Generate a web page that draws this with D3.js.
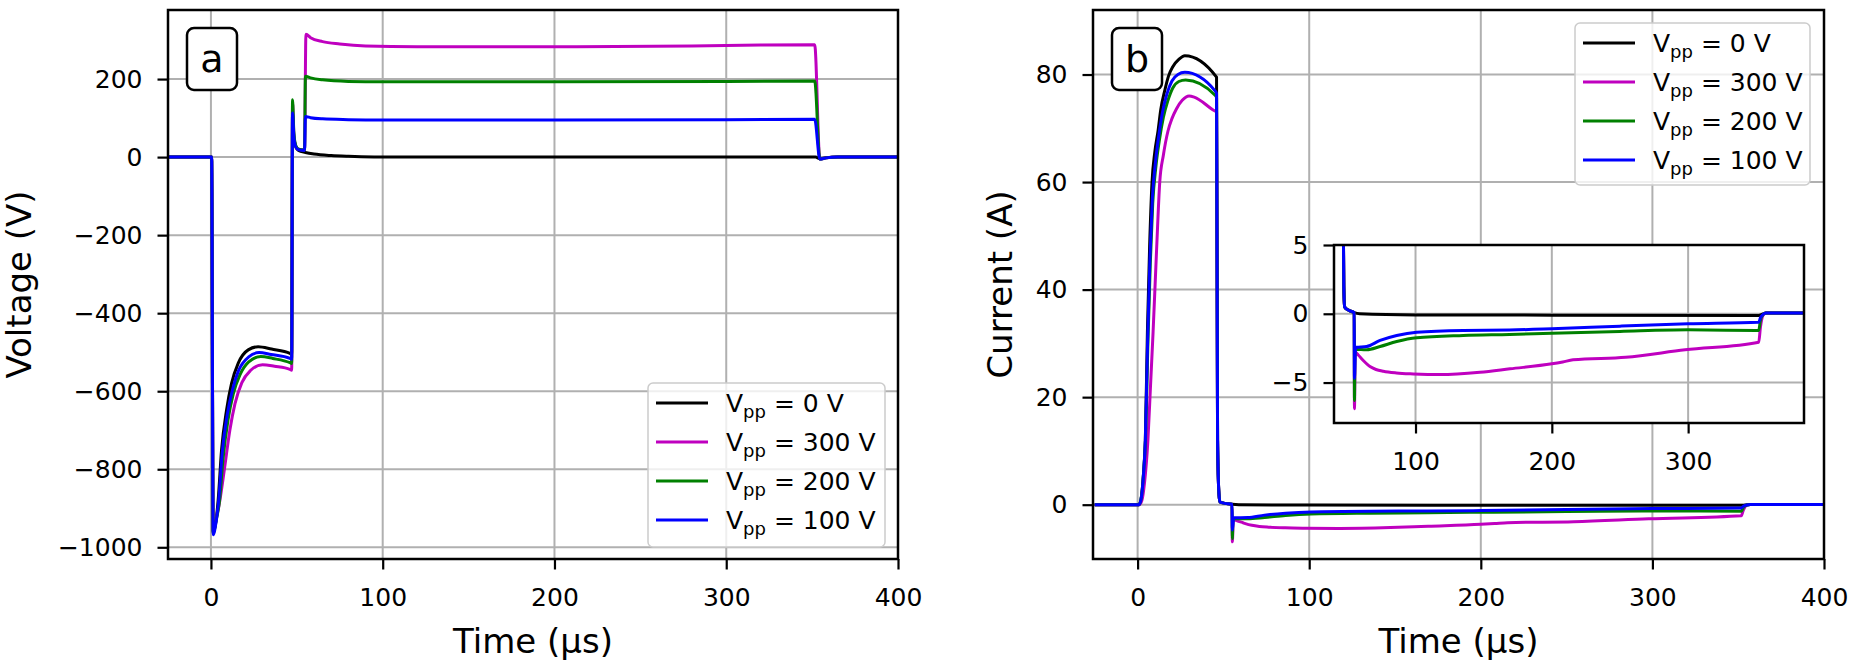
<!DOCTYPE html>
<html>
<head>
<meta charset="utf-8">
<script src="https://cdn.jsdelivr.net/npm/d3@7"></script>
<style>
  body { margin: 0; background: #fff; }
  text { font-family: "DejaVu Sans", sans-serif; fill: #000; }
</style>
</head>
<body>
<svg id="chart"></svg>
<script>
// series labels (Vpp values) and tick values
const vppLabels = ["0", "300", "200", "100"];
const timeTicks = [0, 100, 200, 300, 400];
const voltageTicks = [-1000, -800, -600, -400, -200, 0, 200];
const currentTicks = [0, 20, 40, 60, 80];
const insetTimeTicks = [100, 200, 300];
const insetCurrentTicks = [-5, 0, 5];

// voltage waveforms, [time (us), voltage (V)]
const voltage0 = [[-25,0],[0.4,0],[1.3,-963],[3,-930],[4.2,-879],[6.2,-750],[9.1,-648],[12,-580],[15.9,-528],[21.7,-494],[27.5,-486],[35.3,-492],[46,-503],[47,-506],[47.5,110],[48.3,50],[49.5,25],[51,17],[55,12],[60,8],[70,4],[80,2],[95,0.5],[120,0],[352,0],[354.5,-4],[358,-1.5],[365,0],[400,0]];
const voltage300 = [[-25,0],[0.4,0],[1.3,-958],[3,-928],[5,-885],[8,-795],[11,-700],[14,-632],[18,-578],[23,-547],[30,-532],[37,-536],[46,-544],[47,-546],[47.5,140],[48.3,55],[49.5,27],[51,20],[54.5,18],[55.3,315],[58,306],[65,296],[75,290],[90,285],[120,283],[200,283],[280,285],[320,287],[351.5,288],[354.5,-5],[358,-2],[365,0],[400,0]];
const voltage200 = [[-25,0],[0.4,0],[1.3,-965],[3,-932],[5,-880],[7,-775],[10,-672],[13,-607],[17,-557],[22,-525],[29,-511],[36,-516],[46,-527],[47,-529],[47.5,147],[48.3,60],[49.5,28],[51,20],[54.5,18],[55,207],[58,203],[65,198],[80,194],[100,193],[200,193],[300,194],[351.5,195],[354.5,-5],[358,-2],[365,0],[400,0]];
const voltage100 = [[-25,0],[0.4,0],[1.3,-968],[3,-935],[4.5,-880],[6.5,-760],[9.5,-660],[12.5,-597],[16,-548],[22,-512],[28,-501],[35,-506],[46,-516],[47,-518],[47.5,113],[48.3,50],[49.5,25],[51,19],[54.5,17],[55,104],[58,101],[65,98],[80,96],[100,95],[200,95],[300,96],[351.5,97],[354.5,-5],[358,-2],[365,0],[400,0]];

// current waveforms, [time (us), current (A)]
const current0 = [[-25,0],[0.8,0],[2,1],[3.5,6],[4.5,12],[5.7,32],[7,48],[8.4,60],[10,65.5],[11.9,69.5],[13.5,73.5],[15.8,77],[18,79.7],[20.6,81.5],[24,82.8],[27.5,83.5],[46,79.5],[46.6,12],[47.4,2],[48,0.5],[51,0.25],[55,0.08],[59,0],[100,-0.08],[200,-0.1],[352,-0.12],[354,-0.05],[357,0.05],[400,0.05]];
const current300 = [[-25,0],[1,0],[2.5,0.8],[4,4],[6,12],[7.5,22],[9,32],[11,47],[12.9,60],[15,65],[17.7,69.5],[20,71.8],[22.6,73.6],[26,75.2],[30,76],[33,75.8],[44,73.4],[46,73],[46.6,12],[47.4,2],[48,0.5],[51,0.25],[55,0.08],[55.2,-6.9],[55.8,-2.8],[58,-3],[61.7,-3.4],[66.6,-3.84],[71,-4.05],[76.4,-4.18],[86,-4.3],[98.4,-4.37],[118,-4.42],[147.3,-4.25],[169.3,-4.0],[200,-3.64],[208,-3.5],[215.6,-3.35],[254.2,-3.16],[297.8,-2.62],[351.8,-2.07],[353,-1],[355,-0.1],[357,0.05],[400,0.05]];
const current200 = [[-25,0],[0.8,0],[2,1],[3.5,6],[4.6,12],[5.9,29],[7.4,45],[8.8,56],[10.7,63],[12.8,68],[15,72],[17.5,75],[20.5,77.5],[24,78.7],[28,79],[45,76.2],[46,75.7],[46.6,12],[47.4,2],[48,0.5],[51,0.25],[55,0.08],[55.2,-6.3],[55.6,-2.6],[60,-2.6],[64.2,-2.62],[74,-2.38],[86.2,-2.02],[100.9,-1.75],[135,-1.58],[169,-1.5],[200,-1.41],[250,-1.28],[300,-1.17],[351.8,-1.21],[353,-0.5],[355,-0.05],[357,0.05],[400,0.05]];
const current100 = [[-25,0],[0.8,0],[2,1],[3.5,6],[4.5,12],[5.8,30],[7.2,46],[8.6,57],[10.5,64],[12.5,69],[14.5,73],[17,76.3],[20,78.8],[23.5,80],[27.5,80.4],[45,77],[46,76.5],[46.6,12],[47.4,2],[48,0.5],[51,0.25],[55,0.08],[55.2,-4.7],[56,-2.43],[60,-2.42],[64.2,-2.38],[74,-1.94],[86.2,-1.58],[100.9,-1.34],[135,-1.21],[169,-1.18],[200,-1.09],[250,-0.9],[300,-0.73],[351.8,-0.61],[353,-0.3],[355,-0.05],[357,0.05],[400,0.05]];

const colors = ["#000000", "#bf00bf", "#008000", "#0000ff"];
const W = 1849, H = 667;

const svg = d3.select("#chart").attr("width", W).attr("height", H);
svg.append("rect").attr("width", W).attr("height", H).attr("fill", "#fff");

// draws a panel: grid, lines, axes, spines
function drawAxes(opt) {
    const g = svg.append("g");
    const x = d3.scaleLinear().domain(opt.xDomain).range([opt.left, opt.right]);
    const y = d3.scaleLinear().domain(opt.yDomain).range([opt.bottom, opt.top]);

    if (opt.background) {
        g.append("rect")
         .attr("x", opt.left).attr("y", opt.top)
         .attr("width", opt.right - opt.left).attr("height", opt.bottom - opt.top)
         .attr("fill", "#fff");
    }

    // grid
    g.selectAll(".gx").data(opt.xTicks).enter().append("line")
     .attr("x1", d => x(d)).attr("x2", d => x(d))
     .attr("y1", opt.top).attr("y2", opt.bottom)
     .attr("stroke", "#b0b0b0").attr("stroke-width", 2);
    g.selectAll(".gy").data(opt.yTicks).enter().append("line")
     .attr("x1", opt.left).attr("x2", opt.right)
     .attr("y1", d => y(d)).attr("y2", d => y(d))
     .attr("stroke", "#b0b0b0").attr("stroke-width", 2);

    // data lines, clipped to plot area
    const clipId = "clip" + opt.id;
    svg.append("clipPath").attr("id", clipId).append("rect")
       .attr("x", opt.left).attr("y", opt.top)
       .attr("width", opt.right - opt.left).attr("height", opt.bottom - opt.top);

    const line = d3.line()
        .x(d => x(d[0]))
        .y(d => y(d[1]))
        .curve(d3.curveMonotoneX);

    g.append("g").attr("clip-path", `url(#${clipId})`)
     .selectAll("path").data(opt.series).enter().append("path")
     .attr("d", line)
     .attr("fill", "none")
     .attr("stroke", (d, i) => colors[i])
     .attr("stroke-width", 3)
     .attr("stroke-linejoin", "round");

    // axes
    const fmt = d3.format("d");
    const xAxis = g.append("g").attr("transform", `translate(0,${opt.bottom})`)
        .call(d3.axisBottom(x).tickValues(opt.xTicks).tickFormat(fmt).tickSize(10.5).tickPadding(19).tickSizeOuter(0));
    const yAxis = g.append("g").attr("transform", `translate(${opt.left},0)`)
        .call(d3.axisLeft(y).tickValues(opt.yTicks).tickFormat(fmt).tickSize(10.5).tickPadding(15).tickSizeOuter(0));
    [xAxis, yAxis].forEach(a => {
        a.select(".domain").remove();
        a.selectAll(".tick line").attr("stroke", "#000").attr("stroke-width", 2.2);
        a.selectAll(".tick text")
         .attr("font-size", 25)
         .attr("font-family", "DejaVu Sans");
    });

    // spines
    g.append("rect")
     .attr("x", opt.left).attr("y", opt.top)
     .attr("width", opt.right - opt.left).attr("height", opt.bottom - opt.top)
     .attr("fill", "none").attr("stroke", "#000").attr("stroke-width", 2.5);

    return { g, x, y };
}

function drawLegend(x0, y0, w, h) {
    const g = svg.append("g");
    g.append("rect")
     .attr("x", x0).attr("y", y0).attr("width", w).attr("height", h)
     .attr("rx", 5)
     .attr("fill", "#fff").attr("fill-opacity", 0.8)
     .attr("stroke", "#cccccc").attr("stroke-width", 1.5);
    vppLabels.forEach((v, i) => {
        const cy = y0 + 20 + i * 39;
        g.append("line")
         .attr("x1", x0 + 8).attr("x2", x0 + 60)
         .attr("y1", cy).attr("y2", cy)
         .attr("stroke", colors[i]).attr("stroke-width", 3);
        const t = g.append("text")
         .attr("x", x0 + 78).attr("y", cy + 9)
         .attr("font-size", 25);
        t.append("tspan").text("V");
        t.append("tspan").attr("font-size", 18).attr("dy", 6).text("pp");
        t.append("tspan").attr("dy", -6).text(" = " + v + " V");
    });
}

function drawPanelLabel(x0, y0, letter) {
    svg.append("rect")
       .attr("x", x0).attr("y", y0).attr("width", 50).attr("height", 62)
       .attr("rx", 7)
       .attr("fill", "#fff").attr("stroke", "#000").attr("stroke-width", 2.5);
    svg.append("text")
       .attr("x", x0 + 25).attr("y", y0 + 44)
       .attr("text-anchor", "middle")
       .attr("font-size", 38)
       .text(letter);
}

function axisLabels(cx, bottomY, yLabelX, cy, xText, yText) {
    svg.append("text")
       .attr("x", cx).attr("y", bottomY)
       .attr("text-anchor", "middle")
       .attr("font-size", 34)
       .text(xText);
    svg.append("text")
       .attr("transform", `translate(${yLabelX},${cy}) rotate(-90)`)
       .attr("text-anchor", "middle")
       .attr("font-size", 34)
       .text(yText);
}

// panel a: voltage
const pa = { id: "a", left: 168, right: 898, top: 10, bottom: 559,
             xDomain: [-25, 400], yDomain: [-1030, 377],
             xTicks: timeTicks, yTicks: voltageTicks,
             series: [voltage0, voltage300, voltage200, voltage100] };
drawAxes(pa);
drawPanelLabel(pa.left + 19, pa.top + 18, "a");
drawLegend(648, 383, 237, 164);
axisLabels((pa.left + pa.right) / 2, 653, 31, (pa.top + pa.bottom) / 2, "Time (µs)", "Voltage (V)");

// panel b: current
const pb = { id: "b", left: 1093, right: 1824, top: 10, bottom: 559,
             xDomain: [-26, 400], yDomain: [-10.1, 92],
             xTicks: timeTicks, yTicks: currentTicks,
             series: [current0, current300, current200, current100] };
drawAxes(pb);
drawPanelLabel(pb.left + 19, pb.top + 18, "b");
drawLegend(1575, 23, 235, 162);
axisLabels((pb.left + pb.right) / 2, 653, 1012, (pb.top + pb.bottom) / 2, "Time (µs)", "Current (A)");

// inset in panel b
drawAxes({ id: "inset", left: 1334, right: 1804, top: 245, bottom: 423,
           xDomain: [40.2, 385], yDomain: [-7.94, 5],
           xTicks: insetTimeTicks, yTicks: insetCurrentTicks,
           series: [current0, current300, current200, current100],
           background: true });
</script>
</body>
</html>
